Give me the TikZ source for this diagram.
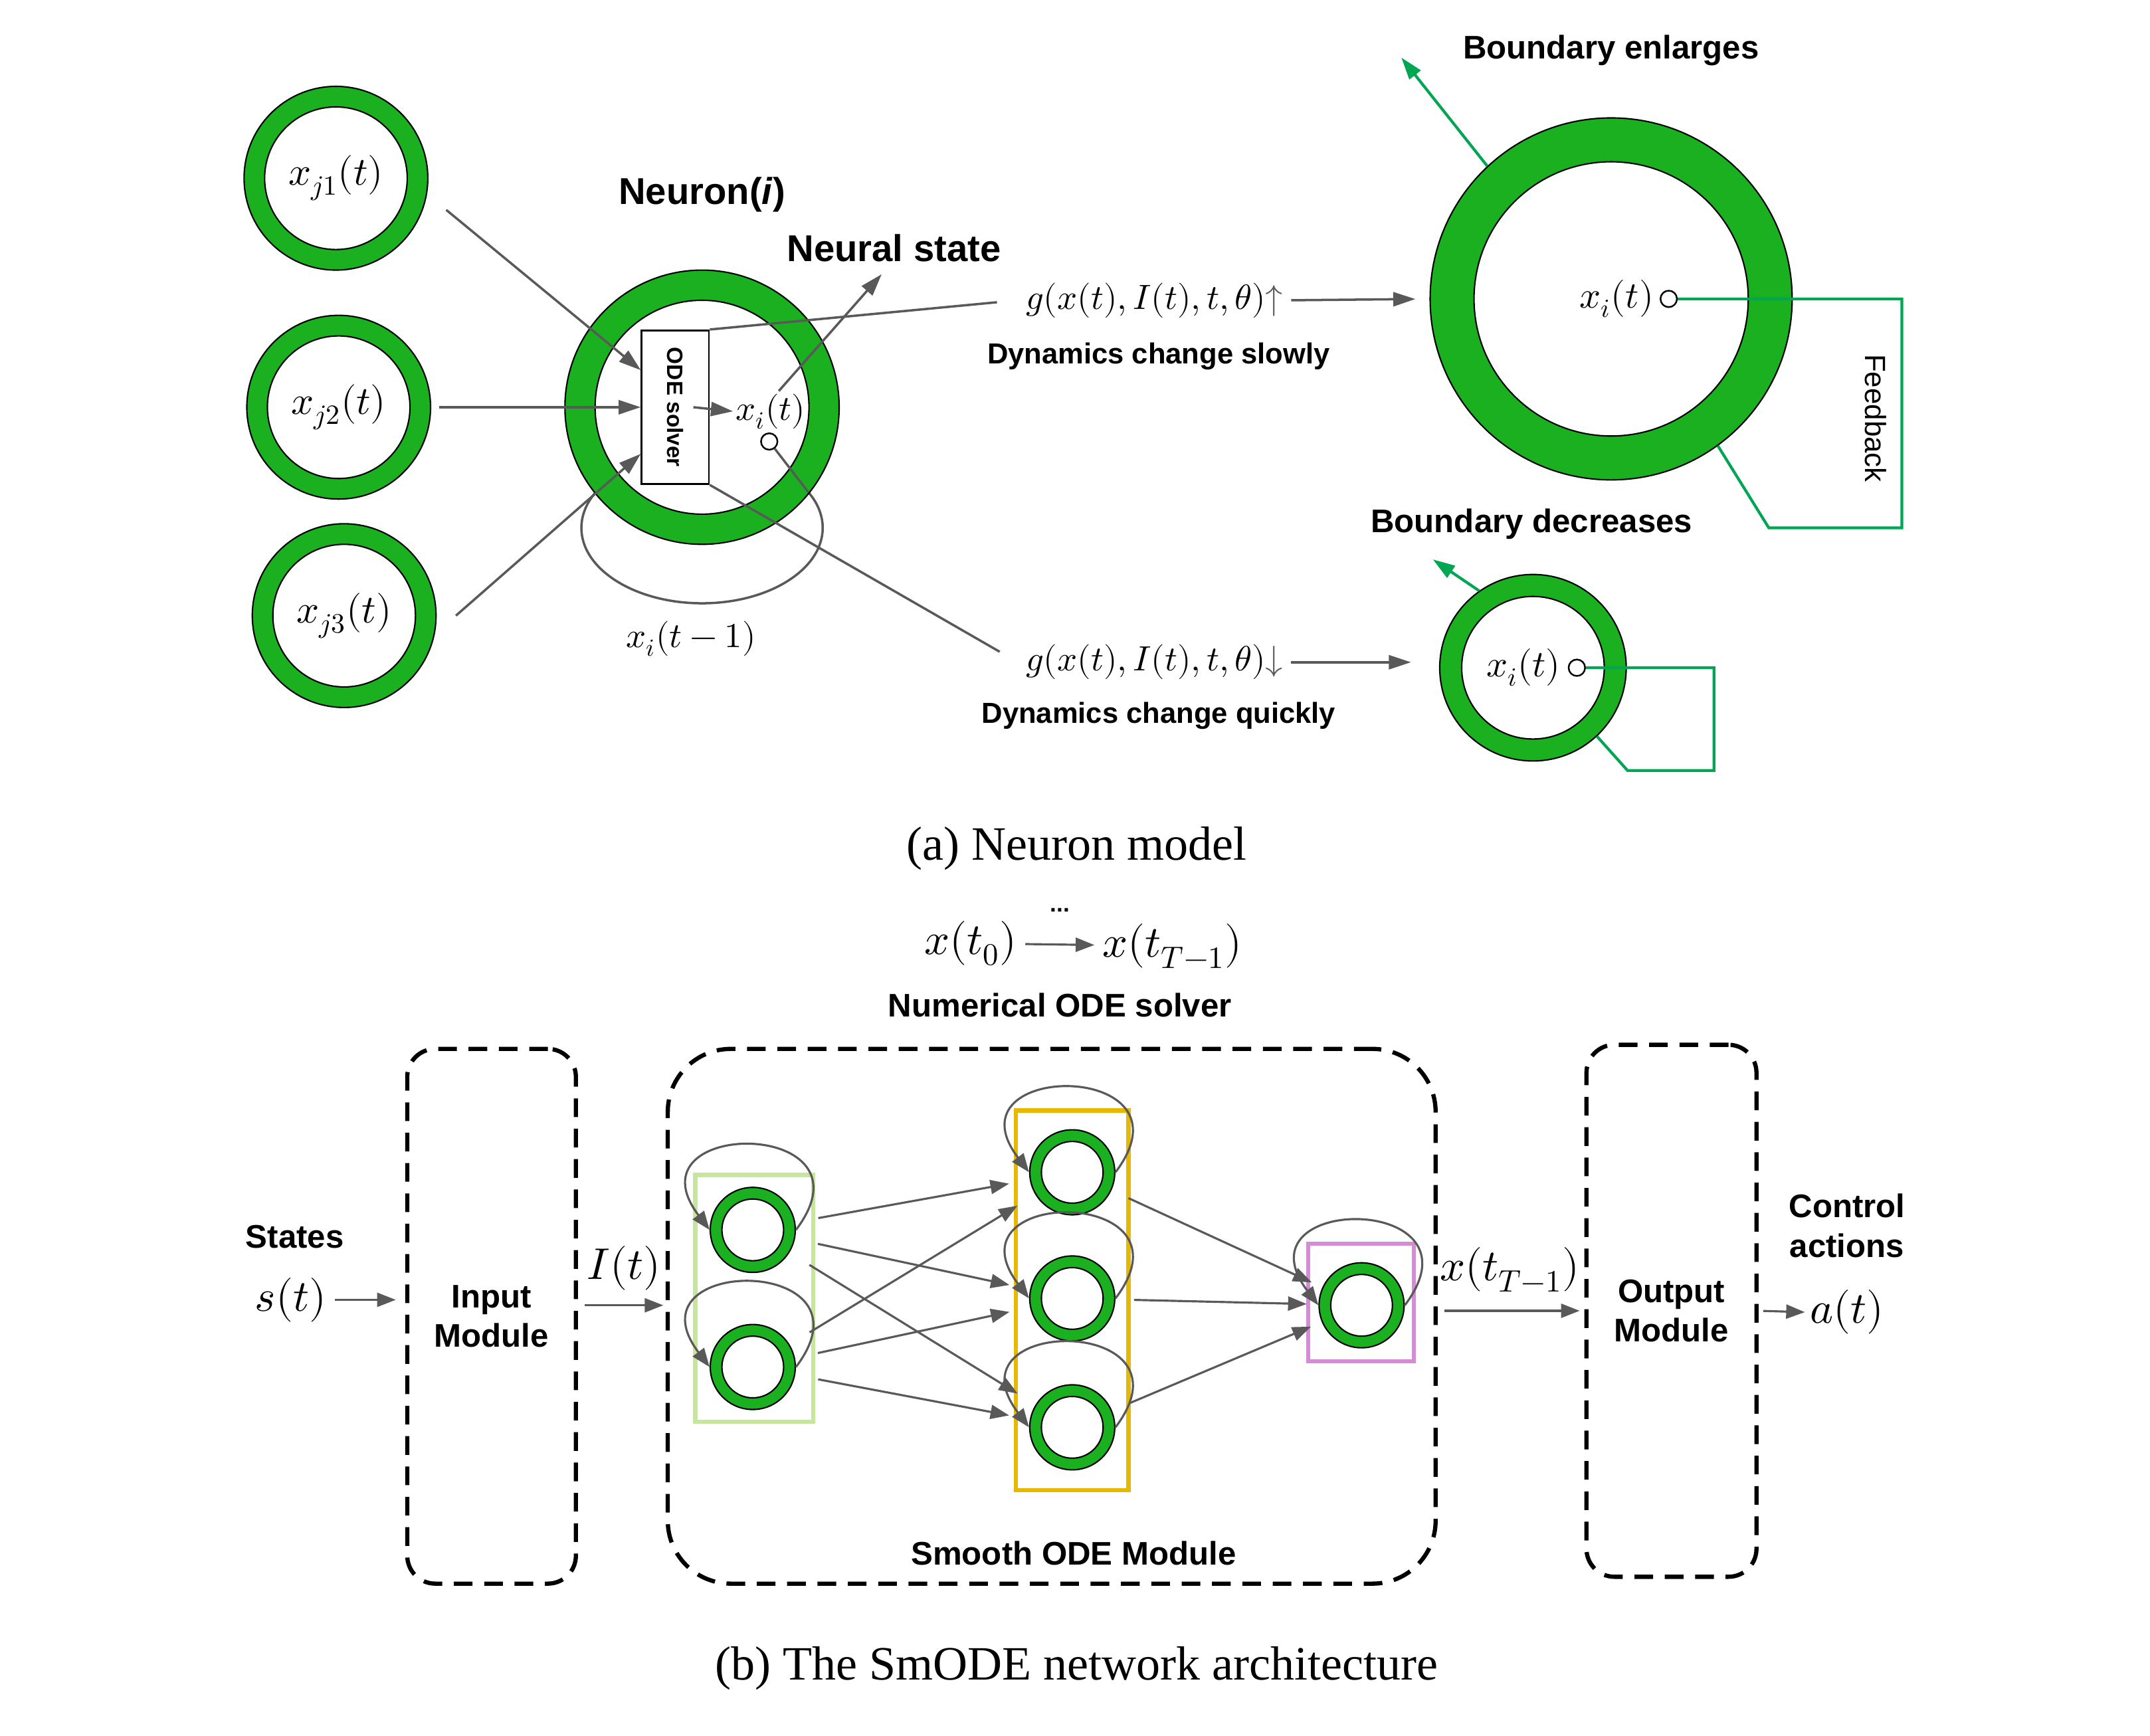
\documentclass[tikz,border=0pt]{standalone}
\usepackage{fontspec}
\usepackage{unicode-math}
\setmainfont{Liberation Serif}
\setsansfont{Liberation Sans}
\usetikzlibrary{arrows.meta}

\definecolor{ringgreen}{RGB}{26,176,32}
\definecolor{fbgreen}{RGB}{0,166,81}
\definecolor{linegray}{RGB}{89,89,89}
\definecolor{lightgreen}{RGB}{197,230,155}
\definecolor{gold}{RGB}{230,184,0}
\definecolor{pinkbox}{RGB}{212,140,212}
\newcommand{\ux}{0.020638cm}

\tikzset{
  ringout/.style={circle, draw=black, line width=0.6pt, fill=ringgreen, inner sep=0pt},
  ringin/.style={circle, draw=black, line width=0.6pt, fill=white, inner sep=0pt},
  outdot/.style={circle, draw=black, line width=0.7pt, fill=white, inner sep=0pt, minimum size=12*\ux},
  gline/.style={draw=linegray, line width=1pt},
  arr/.style={gline, -{Triangle[length=9.5pt,width=6pt]}},
  thinarr/.style={draw=linegray, line width=0.9pt, -{Triangle[length=8pt,width=6pt]}},
  fbline/.style={draw=fbgreen, line width=1.2pt},
  garr/.style={fbline, -{Triangle[length=9.5pt,width=6pt]}},
  boldlbl/.style={font=\sffamily\bfseries\fontsize{14}{17}\selectfont, align=center},
  biglbl/.style={font=\sffamily\bfseries\fontsize{16}{19}\selectfont},
  smalllbl/.style={font=\sffamily\bfseries\fontsize{12.4}{14}\selectfont},
  mathlbl/.style={font=\fontsize{19}{22}\selectfont},
  module/.style={draw=black, line width=1.8pt, dash pattern=on 8pt off 5pt, rounded corners=12pt},
  layerbox/.style={line width=1.8pt, inner sep=0pt},
  caption/.style={font=\fontsize{20.5}{24}\selectfont},
}

\begin{document}
\begin{tikzpicture}[x=0.020638cm, y=-0.020638cm]
\useasboundingbox (0,0) rectangle (1568,1266);

% (a) neuron model
\foreach \n/\x/\y in {1/245/130, 2/247/297, 3/251/449}{
  \node[ringout, minimum size=134*\ux] (oj\n) at (\x,\y) {};
  \node[ringin, minimum size=104*\ux, font=\fontsize{17}{20}\selectfont] (j\n) at (\x,\y) {$x_{j\n}(t)$};
}

\coordinate (lpc) at (512,385);
\draw[gline] (lpc) ellipse (88 and 55);
\node[ringout, minimum size=200*\ux] (oni) at (512,297) {};
\node[ringin, minimum size=156*\ux] (ni) at (512,297) {};
\node[draw=black, fill=white, line width=0.8pt, minimum width=49*\ux, minimum height=112*\ux, inner sep=0pt] (ode) at (492.5,297) {};
\node[rotate=-90, font=\sffamily\bfseries\fontsize{9.5}{11}\selectfont] (odetxt) at (ode.center) {ODE solver};
\node[font=\fontsize{15}{18}\selectfont, inner sep=1pt] (xi) at (562,300) {$x_i(t)$};
\node[outdot] (xs) at (561,322) {};
\draw[gline] (xs) -- ([shift={(-28.3:88 and 55)}]lpc);
\node[font=\fontsize{15}{18}\selectfont] (xprev) at (504,466) {$x_i(t-1)$};

\draw[arr] ([xshift=17*\ux]oj1.-20) -- ([yshift=27*\ux]ode.west);
\draw[arr] ([xshift=6*\ux]oj2.east) -- (ode.west);
\draw[arr] ([xshift=14*\ux]oj3.east) -- ([yshift=-34*\ux]ode.west);
\draw[arr] ([xshift=-12*\ux]ode.east) -- (xi.west);
\coordinate (nstip) at (643,200);
\draw[arr] ([xshift=6*\ux]xi.north) -- (nstip);
\node[biglbl] (neuron) at (512,142) {Neuron(\textit{i})};
\node[biglbl] (nstate) at (652,181) {Neural state};

\node[font=\fontsize{15}{18}\selectfont] (gup) at (842,219) {$g(x(t),I(t),t,\theta)${\color{linegray}$\uparrow$}};
\node[smalllbl] (dslow) at (845,260) {Dynamics change slowly};
\node[font=\fontsize{15}{18}\selectfont] (gdn) at (842,483) {$g(x(t),I(t),t,\theta)${\color{linegray}$\downarrow$}};
\node[smalllbl] (dquick) at (845,522) {Dynamics change quickly};
\draw[gline, shorten >=9pt] (ode.north east) -- (gup.west);
\draw[gline, shorten >=9pt] (ode.south east) -- (gdn.west);

% boundary enlarges
\node[ringout, minimum size=264*\ux] (bigo) at (1175,218) {};
\node[ringin, minimum size=200*\ux] (bigi) at (1175,218) {};
\node[font=\fontsize{16}{19}\selectfont] (bxi) at (1179,218) {$x_i(t)$};
\node[outdot] (bxs) at (1217,218) {};
\coordinate (fbbig) at (1387,385);
\draw[fbline] (bxs) -| (fbbig) -- ++(-97,0) -- (bigo.-54);
\node[rotate=-90, font=\sffamily\fontsize{12.5}{15}\selectfont] (fbtxt) at (1368,305) {Feedback};
\coordinate (bigtip) at (1022,42);
\draw[garr] (bigo.133) -- (bigtip);
\node[boldlbl] (benl) at (1175,37) {Boundary enlarges};
\draw[arr, shorten >=6pt] (gup.east) -- (bigo.west);

% boundary decreases
\node[ringout, minimum size=136*\ux] (smo) at (1118,487) {};
\node[ringin, minimum size=104*\ux] (smi) at (1118,487) {};
\node[font=\fontsize{16}{19}\selectfont] (sxi) at (1111,487) {$x_i(t)$};
\node[outdot] (sxs) at (1150,487) {};
\coordinate (fbsm) at (1250,562);
\draw[fbline] (sxs) -| (fbsm) -- ++(-63,0) -- (smo.-47);
\coordinate (smtip) at (1045,408);
\draw[garr] (smo.125) -- (smtip);
\node[boldlbl] (bdec) at (1117,382) {Boundary decreases};
\draw[arr, shorten >=12pt] (gdn.east) -- (smo.west |- gdn.east);

\node[caption] (capa) at (785,619) {(a) Neuron model};

% (b) network architecture
\node[mathlbl] (xzero) at (708,688) {$x(t_0)$};
\node[mathlbl] (xlast) at (855,690) {$x(t_{T-1})$};
\draw[thinarr] (xzero) -- (xlast);
\node[font=\sffamily\bfseries\fontsize{10}{12}\selectfont] (dots) at (773,664) {...};
\node[boldlbl] (numode) at (773,733) {Numerical ODE solver};

\node[module, boldlbl, minimum width=123*\ux, minimum height=390*\ux] (inmod) at (358.5,960) {Input\\Module};
\node[module, rounded corners=27pt, minimum width=560*\ux, minimum height=390*\ux] (smooth) at (767,960) {};
\node[module, boldlbl, minimum width=124*\ux, minimum height=388*\ux] (outmod) at (1219,956) {Output\\Module};
\node[boldlbl] (smtxt) at (783,1133) {Smooth ODE Module};
\node[boldlbl] (states) at (215,902) {States};
\node[mathlbl] (st) at (212,948) {$s(t)$};
\node[mathlbl] (it) at (455,925) {$I(t)$};
\node[mathlbl] (xout) at (1101,926) {$x(t_{T-1})$};
\node[boldlbl] (ctrl) at (1347,894) {Control\\ actions};
\node[mathlbl, inner sep=2pt] (at) at (1347,957) {$a(t)$};

\draw[thinarr, shorten >=4pt] (st.east) -- (st.east -| inmod.west);
\draw[thinarr, shorten <=3pt, shorten >=1pt] ([yshift=8*\ux]inmod.east) -- ([yshift=8*\ux]smooth.west);
\draw[thinarr, shorten <=3pt, shorten >=2pt] ([yshift=4*\ux]smooth.east) -- (outmod.west);
\draw[thinarr, shorten <=2pt] (outmod.east) -- (at.west);

\node[layerbox, draw=lightgreen, minimum width=86*\ux, minimum height=180*\ux] (lay1) at (550,947) {};
\node[layerbox, draw=gold, minimum width=82*\ux, minimum height=277*\ux] (lay2) at (782,948.5) {};
\node[layerbox, draw=pinkbox, minimum width=77*\ux, minimum height=86*\ux] (lay3) at (992.5,950) {};

\foreach \n/\x/\y in {a1/549/897, a2/549/997, b1/782/855, b2/782/947, b3/782/1041, c1/993/952}{
  \node[ringout, minimum size=62*\ux] (o\n) at (\x,\y) {};
  \node[ringin, minimum size=45*\ux] (\n) at (\x,\y) {};
  \draw[thinarr] (o\n.east) .. controls +(62,-82) and +(-62,-82) .. (o\n.west);
}
\foreach \s in {a1,a2}{
  \foreach \t in {b1,b2,b3}{
    \draw[thinarr, shorten <=10pt, shorten >=9pt] (o\s) -- (o\t);
  }
}
\foreach \s in {b1,b2,b3}{
  \draw[thinarr, shorten <=8pt, shorten >=5pt] (o\s) -- (oc1);
}

\node[caption] (capb) at (785,1217) {(b) The SmODE network architecture};
\end{tikzpicture}
\end{document}
